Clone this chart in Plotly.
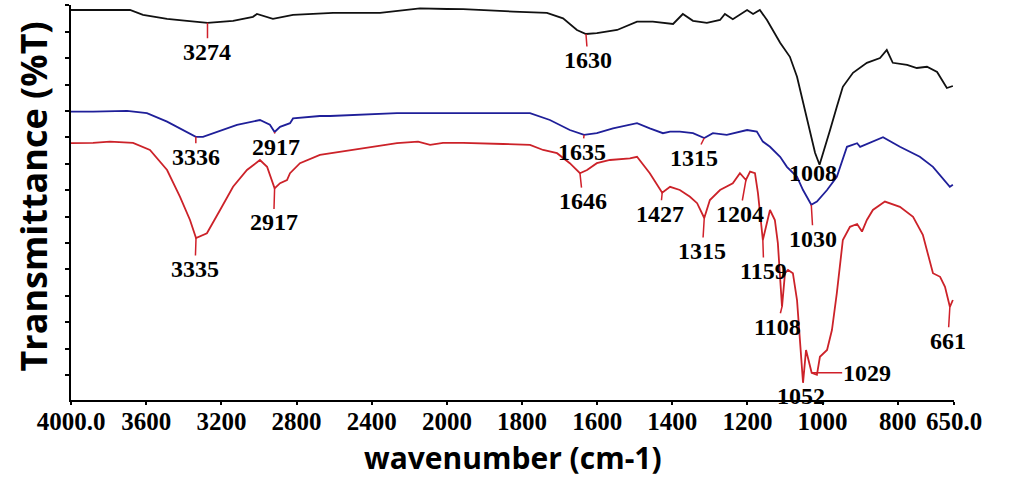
import numpy as np
import plotly.graph_objects as go

# ---------------- data (wavenumber cm-1, transmittance a.u.) ----------------
black_wn = [4000, 3686, 3617, 3489, 3383, 3274, 3138, 3032, 3011, 2926,
            2819, 2606, 2356, 2144, 1957, 1824, 1734, 1691, 1654, 1630,
            1601, 1547, 1494, 1452, 1406, 1398, 1372, 1345, 1308, 1273,
            1260, 1239, 1201, 1185, 1167, 1148, 1113, 1087, 1068, 1052,
            1034, 1020, 1008, 999, 980, 962, 946, 919, 882, 847,
            829, 813, 775, 749, 722, 695, 679, 669, 653]
black_T = [97.5, 97.5, 96.3, 95.3, 94.8, 94.3, 94.8, 95.8, 96.5, 95.3,
           96.3, 96.8, 96.8, 97.9, 97.7, 97.1, 96.8, 95.4, 92.5, 91.5,
           91.7, 92.5, 94.6, 94.6, 94.0, 94.0, 96.5, 94.8, 94.3, 95.0,
           96.5, 95.2, 97.5, 96.5, 97.5, 95.0, 89.3, 85.8, 80.8, 74.3,
           66.8, 61.8, 58.8, 61.8, 67.5, 73.3, 78.3, 81.8, 84.3, 85.5,
           87.5, 84.3, 83.8, 83.0, 83.3, 82.0, 79.5, 78.0, 78.5]

blue_wn = [4000, 3883, 3702, 3596, 3489, 3383, 3336, 3298, 3223, 3117,
           2995, 2942, 2917, 2888, 2835, 2819, 2676, 2622, 2266, 1957,
           1779, 1726, 1673, 1635, 1601, 1558, 1494, 1460, 1425, 1406,
           1380, 1345, 1315, 1292, 1255, 1201, 1175, 1159, 1140, 1113,
           1095, 1068, 1052, 1030, 1015, 988, 962, 935, 908, 900,
           839, 794, 741, 706, 661, 653]
blue_T = [72.1, 72.1, 72.3, 71.7, 69.6, 67.1, 65.8, 65.8, 67.1, 68.8,
          70.0, 68.8, 67.0, 68.3, 69.2, 70.4, 71.0, 71.0, 71.7, 71.8,
          71.7, 70.0, 67.5, 66.3, 66.7, 67.9, 69.2, 67.9, 66.7, 67.1,
          67.1, 66.7, 65.5, 66.7, 66.3, 67.5, 67.1, 64.6, 63.3, 60.8,
          58.3, 55.8, 52.5, 48.8, 49.6, 52.5, 55.8, 63.3, 64.2, 63.3,
          65.7, 63.3, 60.8, 58.3, 53.3, 53.8]

red_wn = [4000, 3883, 3793, 3670, 3580, 3489, 3420, 3367, 3335, 3277,
          3207, 3138, 3064, 2995, 2957, 2917, 2888, 2851, 2835, 2782,
          2676, 2622, 2447, 2266, 2154, 2090, 2021, 1957, 1851, 1779,
          1744, 1707, 1673, 1646, 1627, 1601, 1566, 1513, 1494, 1460,
          1427, 1406, 1380, 1353, 1334, 1315, 1300, 1273, 1239, 1220,
          1204, 1193, 1180, 1172, 1159, 1151, 1140, 1127, 1119, 1108,
          1100, 1092, 1079, 1068, 1058, 1052, 1044, 1039, 1029, 1015,
          1007, 988, 975, 962, 946, 927, 908, 895, 882, 866,
          834, 794, 759, 733, 714, 706, 687, 674, 661, 653]
red_T = [64.2, 64.3, 64.6, 64.3, 62.5, 57.5, 50.8, 45.0, 40.5, 41.7,
         47.5, 53.3, 57.5, 60.0, 58.3, 52.9, 54.2, 55.0, 56.7, 59.2,
         61.3, 61.7, 62.9, 64.2, 64.6, 63.8, 64.3, 64.3, 64.0, 63.8,
         62.5, 61.7, 59.2, 56.7, 57.5, 59.2, 60.0, 60.4, 60.8, 56.7,
         51.8, 53.3, 52.5, 50.8, 49.2, 45.5, 50.0, 52.5, 54.2, 56.7,
         55.0, 57.1, 56.7, 51.7, 40.0, 43.3, 47.5, 45.0, 39.2, 23.3,
         31.7, 32.5, 31.7, 25.0, 11.8, 4.3, 12.5, 10.8, 6.8, 6.3,
         10.8, 12.5, 17.5, 26.7, 40.0, 43.3, 44.0, 42.1, 45.0, 47.5,
         49.6, 48.3, 45.8, 41.3, 34.3, 31.7, 30.8, 28.3, 23.3, 25.0]

# peak labels
peak_series = ["black", "black", "black",
               "blue", "blue", "blue", "blue", "blue",
               "red", "red", "red", "red", "red", "red", "red", "red", "red", "red", "red"]
peak_wn = [3274, 1630, 1008,
           3336, 2917, 1635, 1315, 1030,
           3335, 2917, 1646, 1427, 1315, 1204, 1159, 1108, 1052, 1029, 661]
# label offsets in pixels (style)
peak_ax = [0, 2, -7, 0, 1, -2, -10, 2, -1, -1, 3, -2, -2, -6, 1, -5, -2, 55, -2]
peak_ay = [29, 26, 8, 20, 15, 17, 20, 34, 31, 34, 28, 21, 33, 34, 31, 20, 13, 0, 34]

# axis ticks (two scale segments: 4000-2000 and 2000-650)
ticks_high = [4000, 3600, 3200, 2800, 2400, 2000]
ticktext_high = ["4000.0", "3600", "3200", "2800", "2400", "2000"]
ticks_low = [1800, 1600, 1400, 1200, 1000, 800, 650]
ticktext_low = ["1800", "1600", "1400", "1200", "1000", "800", "650.0"]

colors = {"black": "#111111", "blue": "#1f1f99", "red": "#cc2229"}
series = {"black": (black_wn, black_T), "blue": (blue_wn, blue_T), "red": (red_wn, red_T)}

fig = go.Figure()
for name in ["black", "blue", "red"]:
    wn, T = series[name]
    for xa in ["x", "x2"]:
        fig.add_trace(go.Scatter(x=wn, y=T, mode="lines", xaxis=xa, yaxis="y",
                                 line=dict(color=colors[name], width=1.8),
                                 showlegend=False, hoverinfo="skip"))

annotations = []
for s, w, ax, ay in zip(peak_series, peak_wn, peak_ax, peak_ay):
    wn, T = series[s]
    yv = float(np.interp(w, wn[::-1], T[::-1]))
    annotations.append(dict(
        x=w, y=yv, xref="x" if w >= 2000 else "x2", yref="y",
        text="<b>%d</b>" % w, showarrow=True, arrowhead=0, arrowwidth=1.5,
        arrowcolor="#d0202a", ax=ax, ay=ay, borderpad=0,
        font=dict(family="Liberation Serif", size=24, color="black")))

annotations.append(dict(text="<b>Transmittance (%T)</b>", xref="paper", yref="paper",
                        x=0, y=0.5, xshift=-38, yshift=6, textangle=-90,
                        showarrow=False, xanchor="center", yanchor="middle",
                        font=dict(family="Open Sans", size=36, color="black")))
annotations.append(dict(text="<b>wavenumber (cm-1)</b>", xref="paper", yref="paper",
                        x=0.5, y=0, yshift=-57, showarrow=False,
                        xanchor="center", yanchor="middle",
                        font=dict(family="Open Sans", size=30, color="black")))

split = 376 / 883
tickfont = dict(family="Liberation Serif", size=25, color="black")
common_x = dict(showline=True, linecolor="black", linewidth=2, ticks="outside",
                ticklen=3, tickwidth=1.5, tickcolor="black", showgrid=False,
                zeroline=False, anchor="y", tickfont=tickfont, tickmode="array")

fig.update_layout(
    width=1014, height=478,
    margin=dict(l=71, r=60, t=5, b=78),
    plot_bgcolor="white", paper_bgcolor="white",
    showlegend=False,
    xaxis=dict(domain=[0, split], range=[4000, 2000], tickvals=ticks_high,
               ticktext=["<b>%s</b>" % t for t in ticktext_high], **common_x),
    xaxis2=dict(domain=[split, 1], range=[2000, 650], tickvals=ticks_low,
                ticktext=["<b>%s</b>" % t for t in ticktext_low], **common_x),
    yaxis=dict(range=[0, 98.75], tick0=6.25, dtick=6.6, ticks="outside", ticklen=4,
               tickwidth=1.5, tickcolor="black", showticklabels=False,
               showline=True, linecolor="black", linewidth=2, showgrid=False,
               zeroline=False, anchor="x"),
    annotations=annotations,
)

try:
    fig.update_layout(xaxis_ticklabelstandoff=-5, xaxis2_ticklabelstandoff=-5)
except Exception:
    pass

fig.write_html("out.html")
